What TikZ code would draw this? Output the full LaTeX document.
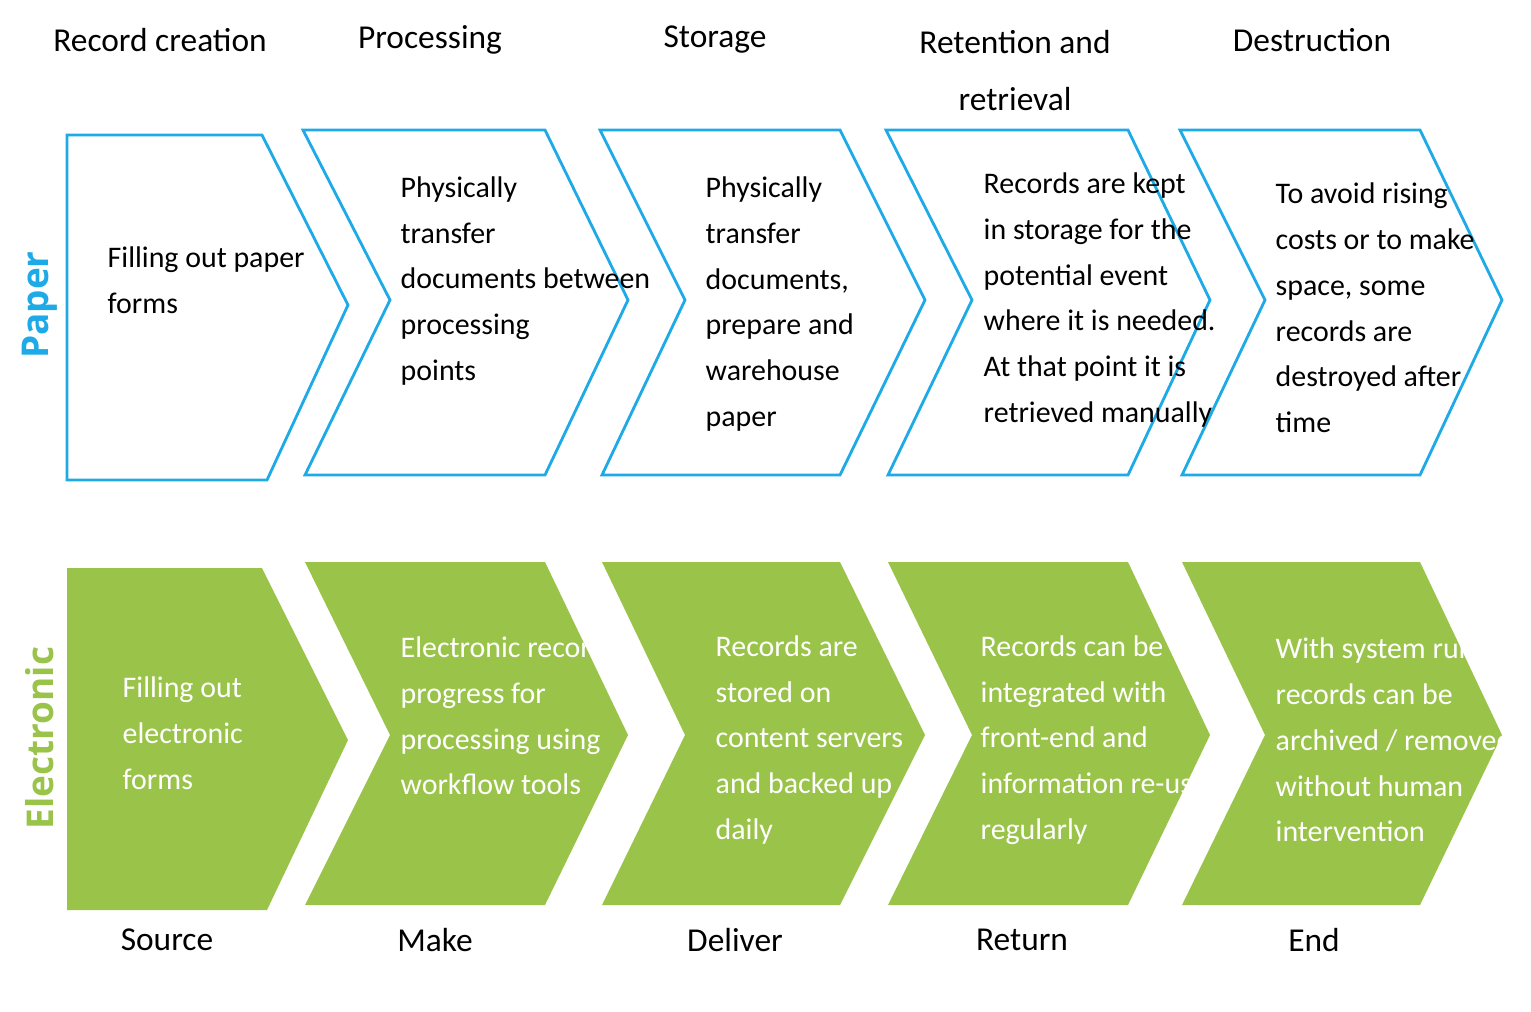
\documentclass[tikz,border=0pt]{standalone}
\usepackage{fontspec}
\setmainfont{Carlito}
\newfontfamily\lblfont{Open Sans}
\definecolor{pblue}{RGB}{30,170,230}
\definecolor{egreen}{RGB}{154,195,74}
\begin{document}
\begin{tikzpicture}[x=0.01cm,y=-0.01cm,
  txt/.style={anchor=west,align=left,font=\fontsize{8.5}{13}\selectfont,inner sep=0pt},
  hdr/.style={align=center,font=\fontsize{9.5}{16}\selectfont,inner sep=0pt},
  pbox/.style={draw=pblue,line width=0.8pt,fill=white},
  ebox/.style={fill=egreen,draw=none}]
\useasboundingbox (0,0) rectangle (1531,1011);
% paper row
\path[pbox] (67,135) -- (262,135) -- (348,305) -- (267,480) -- (67,480) -- cycle;
\path[pbox] (303,130) -- (545,130) -- (628,300) -- (545,475) -- (305,475) -- (390,300) -- cycle;
\path[pbox] (600,130) -- (840,130) -- (925,300) -- (840,475) -- (602,475) -- (685,300) -- cycle;
\path[pbox] (886,130) -- (1128,130) -- (1210,300) -- (1128,475) -- (888,475) -- (972,300) -- cycle;
\path[pbox] (1180,130) -- (1420,130) -- (1502,300) -- (1420,475) -- (1182,475) -- (1265,300) -- cycle;
% electronic row
\path[ebox] (67,568) -- (262,568) -- (348,740) -- (267,910) -- (67,910) -- cycle;
\path[ebox] (305,562) -- (545,562) -- (628,735) -- (545,905) -- (305,905) -- (390,735) -- cycle;
\path[ebox] (602,562) -- (840,562) -- (925,735) -- (840,905) -- (602,905) -- (685,735) -- cycle;
\path[ebox] (888,562) -- (1128,562) -- (1210,735) -- (1128,905) -- (888,905) -- (972,735) -- cycle;
\path[ebox] (1182,562) -- (1420,562) -- (1502,735) -- (1420,905) -- (1182,905) -- (1265,735) -- cycle;
% side labels
\node[rotate=90,text=pblue,font=\lblfont\fontsize{10.5}{12}\selectfont\bfseries] (lp) at (40,305) {Paper};
\node[rotate=90,text=egreen,font=\lblfont\fontsize{10.5}{12}\selectfont\bfseries] (le) at (40,738) {Electronic};
% headers
\node[hdr] (h1) at (160,40) {Record creation};
\node[hdr] (h2) at (430,40) {Processing};
\node[hdr] (h3) at (715,40) {Storage};
\node[hdr,anchor=north] (h4) at (1015,30) {Retention and\\retrieval};
\node[hdr] (h5) at (1312,40) {Destruction};
% footers
\node[hdr] (f1) at (167,940) {Source};
\node[hdr] (f2) at (435,940) {Make};
\node[hdr] (f3) at (735,940) {Deliver};
\node[hdr] (f4) at (1022,940) {Return};
\node[hdr] (f5) at (1314,940) {End};
% paper texts
\node[txt] (p1) at (107,280) {Filling out paper\\forms};
\node[txt] (p2) at (400,281) {Physically\\transfer\\documents between\\processing\\points};
\node[txt] (p3) at (705,304) {Physically\\transfer\\documents,\\prepare and\\warehouse\\paper};
\node[txt] (p4) at (983,300) {Records are kept\\in storage for the\\potential event\\where it is needed.\\At that point it is\\retrieved manually};
\node[txt] (p5) at (1275,308) {To avoid rising\\costs or to make\\space, some\\records are\\destroyed after\\time};
% electronic texts
\node[txt,text=white] (e1) at (122,733) {Filling out\\electronic\\forms};
\node[txt,text=white] (e2) at (400,716) {Electronic records\\progress for\\processing using\\workflow tools};
\node[txt,text=white] (e3) at (715,740) {Records are\\stored on\\content servers\\and backed up\\daily};
\node[txt,text=white] (e4) at (980,740) {Records can be\\integrated with\\front-end and\\information re-used\\regularly};
\node[txt,text=white] (e5) at (1275,740) {With system rules,\\records can be\\archived / removed\\without human\\intervention};
\end{tikzpicture}
\end{document}
